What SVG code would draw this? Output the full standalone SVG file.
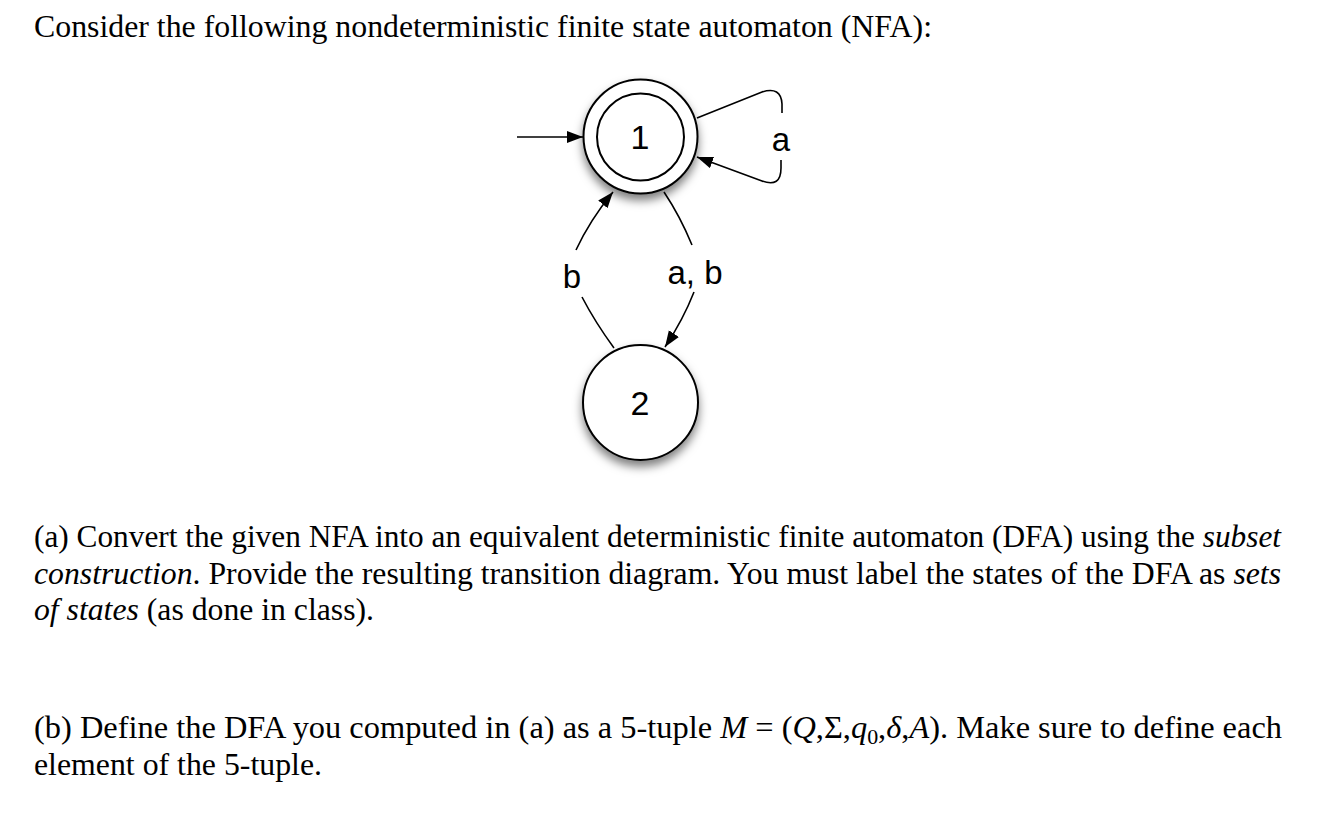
<svg xmlns="http://www.w3.org/2000/svg" width="1318" height="824" viewBox="0 0 1318 824">
<style>
.t{font-family:"Liberation Serif","Times New Roman",serif;font-size:31px;fill:#000}
.i{font-style:italic}
.lbl{font-family:"Liberation Sans",Arial,Helvetica,sans-serif;font-size:33px;fill:#000;text-anchor:middle}
.st{fill:#fff;stroke:#000;stroke-width:2}
.edge{fill:none;stroke:#000;stroke-width:1.6}
</style>
<defs>
<marker id="arr" markerUnits="userSpaceOnUse" markerWidth="18" markerHeight="14" refX="16" refY="6" orient="auto">
<path d="M0,0 L16,6 L0,12 Z" fill="#000"/>
</marker>
<filter id="sh" x="-30%" y="-30%" width="160%" height="170%">
<feDropShadow dx="0" dy="6" stdDeviation="5" flood-color="#000" flood-opacity="0.5"/>
</filter>
</defs>
<rect width="1318" height="824" fill="#fff"/>

<text class="t" x="34" y="37" textLength="898" lengthAdjust="spacingAndGlyphs">Consider the following nondeterministic finite state automaton (NFA):</text>

<g id="connectors">
<path class="edge" d="M517,137 L583,137" marker-end="url(#arr)"/>
<path class="edge" d="M697,118 L762,92 Q781,86 782,104 L782,113"/>
<path class="edge" d="M781,160 L781,168 Q781,188 762,181 L697,157" marker-end="url(#arr)"/>
<path class="edge" d="M614,348 Q595,322 582,297"/>
<path class="edge" d="M576,250 Q590,220 613,192" marker-end="url(#arr)"/>
<path class="edge" d="M664,192 Q680,216 692,245"/>
<path class="edge" d="M694,292 Q683,320 665,347" marker-end="url(#arr)"/>
<text class="lbl" x="781" y="151">a</text>
<text class="lbl" x="572" y="288">b</text>
<text class="lbl" x="695" y="284">a, b</text>
</g>

<g id="state1">
<circle class="st" cx="640.5" cy="136.5" r="57" filter="url(#sh)"/>
<circle class="st" cx="640.5" cy="137" r="43.5"/>
<text class="lbl" x="640" y="149" style="font-size:34px">1</text>
</g>

<g id="state2">
<circle class="st" cx="640.5" cy="402.5" r="57.5" filter="url(#sh)"/>
<text class="lbl" x="640" y="415" style="font-size:34px">2</text>
</g>

<text class="t" x="34" y="547" textLength="1247" lengthAdjust="spacingAndGlyphs">(a) Convert the given NFA into an equivalent deterministic finite automaton (DFA) using the <tspan class="i">subset</tspan></text>
<text class="t" x="34" y="584" textLength="1247" lengthAdjust="spacingAndGlyphs"><tspan class="i">construction</tspan>. Provide the resulting transition diagram.  You must label the states of the DFA as <tspan class="i">sets</tspan></text>
<text class="t" x="34" y="620" textLength="340" lengthAdjust="spacingAndGlyphs"><tspan class="i">of states</tspan> (as done in class).</text>

<text class="t" x="34" y="738" textLength="1248" lengthAdjust="spacingAndGlyphs">(b) Define the DFA you computed in (a) as a 5-tuple <tspan class="i">M</tspan> = (<tspan class="i">Q</tspan>,Σ,<tspan class="i">q</tspan><tspan dy="6" style="font-size:21px">0</tspan><tspan dy="-6">,</tspan><tspan class="i">δ</tspan>,<tspan class="i">A</tspan>). Make sure to define each</text>
<text class="t" x="34" y="775" textLength="288" lengthAdjust="spacingAndGlyphs">element of the 5-tuple.</text>
</svg>
